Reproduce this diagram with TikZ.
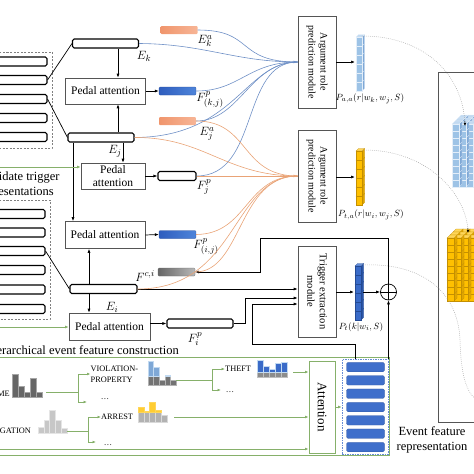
\documentclass[tikz,border=0pt]{standalone}
\usepackage{fontspec}
\setmainfont{Liberation Serif}
\usetikzlibrary{arrows.meta,calc}
\newcommand\fsz[2]{\fontsize{#1}{#2}\selectfont}
\definecolor{boxgray}{HTML}{555555}
\definecolor{salmonA}{HTML}{F0956C}
\definecolor{salmonB}{HTML}{F7B596}
\definecolor{blueA}{HTML}{2F5EBE}
\definecolor{blueB}{HTML}{4E84DA}
\definecolor{grayA}{HTML}{666666}
\definecolor{grayB}{HTML}{B8B8B8}
\definecolor{bcurve}{HTML}{6F90C6}
\definecolor{ocurve}{HTML}{E9A376}
\definecolor{gline}{HTML}{86B06A}
\definecolor{evblue}{HTML}{3F6FCB}
% cube colours: front (f), top (t), side (s), edge (e)
\definecolor{lbf}{HTML}{9DC3E6}\definecolor{lbt}{HTML}{C2DAF1}\definecolor{lbs}{HTML}{7FA8D6}\definecolor{lbe}{HTML}{E3EEF9}
\definecolor{ylf}{HTML}{FFC000}\definecolor{ylt}{HTML}{FFD659}\definecolor{yls}{HTML}{E0A600}\definecolor{yle}{HTML}{C48F00}
\definecolor{dbf}{HTML}{3A6BC8}\definecolor{dbt}{HTML}{6690DB}\definecolor{dbs}{HTML}{2A55A8}\definecolor{dbe}{HTML}{244A93}
% #1 x0, #2 y0, #3 last col, #4 last row, #5 last layer, #6 colour prefix
\newcommand\cubes[6]{%
  \foreach \L in {#5,...,0}{%
    \foreach \c in {#3,...,0}{%
      \foreach \r in {#4,...,0}{%
        \pgfmathsetmacro\xx{#1+\c*\cw+\L*\cd}%
        \pgfmathsetmacro\yy{#2+\r*\ch-\L*\cd}%
        \filldraw[draw=#6e,fill=#6s,line width=0.3pt] (\xx+\cw,\yy) -- ++(\cd,-\cd) -- ++(0,\ch) -- ++(-\cd,\cd) -- cycle;
        \filldraw[draw=#6e,fill=#6t,line width=0.3pt] (\xx,\yy) -- ++(\cd,-\cd) -- ++(\cw,0) -- ++(-\cd,\cd) -- cycle;
        \filldraw[draw=#6e,fill=#6f,line width=0.3pt] (\xx,\yy) rectangle ++(\cw,\ch);
      }}}}
\begin{document}
\begin{tikzpicture}[x=1pt,y=-1pt,
  wbar/.style={draw=black,line width=1.1pt,rounded corners=1.6pt,fill=white,inner sep=0pt},
  sbar/.style={inner sep=0pt,rounded corners=1pt,left color=salmonA,right color=salmonB,minimum width=37pt,minimum height=8pt},
  bbar/.style={inner sep=0pt,rounded corners=1pt,left color=blueA,right color=blueB,draw=blueA!80!black,line width=0.3pt,minimum width=37pt,minimum height=8pt},
  gbar/.style={inner sep=0pt,rounded corners=1pt,left color=grayA,right color=grayB,draw=grayA,line width=0.3pt,minimum width=37pt,minimum height=8pt},
  pbox/.style={draw=boxgray,line width=0.6pt,fill=white,inner sep=0pt,font=\fsz{11.5}{13.5},align=center},
  mbox/.style={draw=boxgray,line width=0.6pt,fill=white,inner sep=0pt,minimum width=38pt,minimum height=92pt},
  rtxt/.style={rotate=-90,align=center,inner sep=0pt},
  arr/.style={line width=0.7pt,-{Latex[length=4pt,width=3pt]}},
  conn/.style={line width=0.7pt},
  garr/.style={gline,line width=0.8pt,-{Latex[length=3.5pt,width=2.8pt]}},
  gl/.style={gline,line width=0.8pt},
  bc/.style={bcurve,line width=0.6pt},
  oc/.style={ocurve,line width=0.6pt},
  dotc/.style={gray!75,line width=0.5pt,dash pattern=on 0.7pt off 1.3pt},
  lbl/.style={font=\fsz{13}{15},inner sep=0pt},
  plbl/.style={font=\fsz{9.5}{11},inner sep=0pt},
  smalltxt/.style={font=\fsz{8.3}{10.5},inner sep=0pt},
  bigtxt/.style={font=\fsz{12.5}{15},inner sep=0pt,align=center},
  dbox/.style={gray,line width=0.6pt,dash pattern=on 2pt off 1.5pt},
  evbar/.style={inner sep=0pt,rounded corners=1.5pt,fill=evblue,draw=evblue!80!black,line width=0.3pt,minimum width=38pt,minimum height=9.5pt}
]
\useasboundingbox (0,0) rectangle (474,474);

% ---------- upper left group ----------
\draw[dbox] (-10,52) rectangle (52,148);
\foreach \i/\y in {1/61.5,2/80,3/99,4/118,5/137}
  \node[wbar,minimum width=52pt,minimum height=9pt] (a\i) at (21,\y) {};

\node[wbar,minimum width=66pt,minimum height=9pt] (ek) at (105.5,43.5) {};
\node[wbar,minimum width=66pt,minimum height=9pt] (ej) at (101,137.5) {};
\node[pbox,minimum width=80pt,minimum height=26pt] (pa1) at (105.5,91) {Pedal attention};
\node[sbar] (eak) at (179,30) {};
\node[bbar] (fkj) at (177.5,91) {};
\node[sbar] (eaj) at (177.5,121) {};
\node[pbox,minimum width=64pt,minimum height=26pt] (pa2) at (113,176) {Pedal\\attention};
\node[wbar,minimum width=38pt,minimum height=9pt] (fj) at (177,176) {};
\node[pbox,minimum width=80pt,minimum height=27pt] (pa3) at (105,235) {Pedal attention};
\node[bbar] (fij) at (177.5,234.5) {};
\node[gbar] (fci) at (176.5,272) {};

\node[bigtxt] (candtxt) at (16,184.5) {Candidate trigger\\representations};

% ---------- lower left group ----------
\draw[dbox] (-10,200) rectangle (50,319);
\foreach \i/\y in {1/214,2/232.5,3/251,4/270,5/289.5,6/309}
  \node[wbar,minimum width=50pt,minimum height=9pt] (b\i) at (20,\y) {};
\node[wbar,minimum width=67pt,minimum height=9pt] (ei) at (103.5,289) {};
\node[pbox,minimum width=81pt,minimum height=27pt] (pa4) at (109.5,326.5) {Pedal attention};
\node[wbar,minimum width=66pt,minimum height=9pt] (fi) at (200,323.5) {};

% labels
\node[lbl] (lek) at (144,56) {$E_k$};
\node[lbl] (lej) at (115,151) {$E_j$};
\node[lbl] (lei) at (112,307) {$E_i$};
\node[lbl] (leak) at (205,41) {$E^{a}_{k}$};
\node[lbl] (leaj) at (207,134) {$E^{a}_{j}$};
\node[lbl] (lfkj) at (210,100) {$F^{p}_{(k,j)}$};
\node[lbl] (lfj) at (204,187) {$F^{p}_{j}$};
\node[lbl] (lfij) at (206,247) {$F^{p}_{(i,j)}$};
\node[lbl] (lfci) at (145,276) {$F^{c,i}$};
\node[lbl] (lfi) at (195,339) {$F^{p}_{i}$};

% modules
\node[mbox] (arg1) at (317,62) {};
\node[rtxt,font=\fsz{10}{12}] at (arg1) {Argument role\\prediction module};
\node[mbox] (arg2) at (317,176) {};
\node[rtxt,font=\fsz{10}{12}] at (arg2) {Argument role\\prediction module};
\node[mbox,minimum height=91pt] (trig) at (317,291.5) {};
\node[rtxt,font=\fsz{10.5}{12.5}] at (trig) {Trigger extraction\\module};

% output columns
\def\cw{6}\def\ch{9}\def\cd{2.5}
\cubes{356}{37}{0}{5}{0}{lb}
\cubes{356}{151}{0}{5}{0}{yl}
\cubes{355}{266}{0}{5}{0}{db}
\coordinate (paaL) at (355,62);
\coordinate (ptaL) at (355,177);
\coordinate (ptL) at (354,292);
\coordinate (ptR) at (363,292);
\coordinate (paaT) at (362,36);
\coordinate (ptaT) at (362,150);
\coordinate (ptT) at (361,265);

\node[plbl] (lpaa) at (370,99) {$P_{a,a}(r|w_k,w_j,S)$};
\node[plbl] (lpta) at (371,215) {$P_{t,a}(r|w_i,w_j,S)$};
\node[plbl] (lpt) at (361,327) {$P_t(k|w_i,S)$};

\node[circle,draw=black,line width=0.7pt,minimum size=16pt,inner sep=0pt,fill=white] (op) at (388.5,292) {};
\draw[line width=0.7pt] (op.north) -- (op.south) (op.west) -- (op.east);

% big right box and stacks
\draw[boxgray,line width=0.8pt] (438,72) rectangle (490,422);
\def\cw{7}\def\ch{7}\def\cd{3}
\cubes{452}{124}{2}{8}{2}{lb}
\cubes{447}{238}{3}{8}{2}{yl}

% dotted curves
\draw[dotc] (paaT) .. controls (425,36) and (463,75) .. (465,124);
\draw[-{Latex[length=3pt,width=2.5pt]},line width=0.5pt] (464.9,121) -- (465,126);
\draw[dotc] (ptaT) .. controls (425,149) and (466,192) .. (468,231);
\draw[-{Latex[length=3pt,width=2.5pt]},line width=0.5pt] (467.9,228) -- (468,233);
\draw[dotc] (ptT) .. controls (420,262) and (458,290) .. (460,340) .. controls (461,380) and (468,396) .. (480,402);

% ---------- black connectors ----------
\draw[conn] (a2.east) -- (ek.west);
\draw[conn] (a3.east) -- (ej.west);
\draw[conn] (b3.east) -- (ei.west);
\coordinate (xk) at (118,0);
\coordinate (xj) at (123,0);
\coordinate (xl) at (73,0);
\coordinate (xi) at (89,0);
\draw[arr] (ek.south -| xk) -- (pa1.north -| xk);
\draw[arr] (ej.north -| xk) -- (pa1.south -| xk);
\draw[arr] (ej.south -| xj) -- (pa2.north -| xj);
\draw[arr] (ej.south -| xl) -- (pa3.north -| xl);
\draw[arr] (ei.north -| xi) -- (pa3.south -| xi);
\draw[arr] (ei.south -| xi) -- (pa4.north -| xi);
\draw[arr] (pa1.east) -- (fkj.west);
\draw[arr] (pa2.east) -- (fj.west);
\draw[arr] (pa3.east) -- (fij.west);
\draw[arr] (pa4.east |- fi.west) -- (fi.west);
\draw[arr] (ei.east) -- (ei.east -| trig.west);
\draw[arr] (fi.east) -- (245,323.5) |- ([yshift=-6.5pt]trig.west);
\draw[arr] (arg1.east) -- (paaL);
\draw[arr] (arg2.east |- ptaL) -- (ptaL);
\draw[arr] (trig.east |- ptL) -- (ptL);
\draw[arr] (ptR) -- (op.west);
\draw[arr] (op.north) |- (260,238) |- (fci.east);

% ---------- coloured curves ----------
\coordinate (c1) at (297.5,62);
\coordinate (c2) at (297.5,176);
\draw[bc] (eak.east) .. controls (255,30) and (235,62) .. (c1);
\draw[bc] (ek.east) .. controls (205,44) and (235,62) .. (c1);
\draw[bc] (fkj.east) .. controls (240,91) and (248,62) .. (c1);
\draw[bc] (eaj.east) .. controls (240,121) and (250,62) .. (c1);
\draw[bc] (ej.east) .. controls (235,137) and (245,62) .. (c1);
\draw[bc] (fj.east) .. controls (260,176) and (240,62) .. (c1);
\draw[bc,-{Latex[length=4pt,width=3pt]}] (290,62) -- (c1);
\draw[oc] (eaj.east) .. controls (250,121) and (240,176) .. (c2);
\draw[oc] (ej.east) .. controls (205,137) and (225,176) .. (c2);
\draw[oc] (fj.east) -- (c2);
\draw[oc] (fij.east) .. controls (248,234) and (245,176) .. (c2);
\draw[oc] (fci.east) .. controls (242,272) and (238,176) .. (c2);
\draw[oc] (ei.east) .. controls (238,289) and (232,176) .. (c2);
\draw[oc,-{Latex[length=4pt,width=3pt]}] (290,176) -- (c2);

% ---------- green inputs ----------
\coordinate (g1) at (-2,167);
\coordinate (g2) at (-2,327);
\coordinate (g3) at (-2,449);
\draw[garr] (g1) -- (g1 -| pa2.west);
\draw[garr] (g2) -- (g2 -| pa4.west);

% ---------- hierarchical event feature construction ----------
\node[bigtxt,anchor=east] (hiertxt) at (179,350) {Hierarchical event feature construction};
\draw[gline,line width=0.8pt] (-5,357) rectangle (389,455);
\node[draw=gline,line width=0.8pt,fill=white,minimum width=26pt,minimum height=92pt,inner sep=0pt] (att) at (322,407) {};
\node[rtxt,font=\fsz{13}{15}] at (att) {Attention};
\node[draw=evblue!80,line width=0.6pt,dash pattern=on 1.5pt off 1pt,minimum width=46pt,minimum height=95pt,inner sep=0pt] (evbox) at (365,406.5) {};
\foreach \i/\y in {1/367,2/380.3,3/393.7,4/407,5/420.3,6/433.7,7/447}
  \node[evbar] (e\i) at (365.5,\y) {};
\node[bigtxt,font=\fsz{12.5}{14.5}] (evtxt) at (432,440) {Event feature\\representation};

\draw[garr] (g3) -- (g3 -| att.west);
\draw[garr] (att.east) -- (att.east -| evbox.west);

% connectors from event representation
\coordinate (x355) at (355,0);
\draw[arr] (evbox.north -| x355) |- (252,344) |- ([yshift=-12.5pt]trig.west);
\draw[arr] (evbox.north -| op) -- (op.south);

% texts of the hierarchy
\node[smalltxt,anchor=east] (crime) at (10,394) {CRIME};
\node[smalltxt,anchor=west,align=left] (viol) at (90.5,374.5) {VIOLATION-\\PROPERTY};
\node[smalltxt,anchor=base] (dt1) at (105,399) {…};
\node[smalltxt,anchor=west] (theft) at (225,369) {THEFT};
\node[smalltxt,anchor=base] (dt2) at (230,392) {…};
\node[smalltxt,anchor=east] (inv) at (31,431) {INVESTIGATION};
\node[smalltxt,anchor=west] (arrest) at (101,417) {ARREST};
\node[smalltxt,anchor=base] (dt3) at (108,445) {…};

% histograms
\foreach \x/\t in {12/374,18/386,24/392,30/378,36/392}
  \filldraw[fill=black!60,draw=black!35,line width=0.3pt] (\x,\t) rectangle ++(6,397-\t);
\foreach \x/\t in {148/361,153.6/367,159.2/380,164.8/375,170.4/380}{
  \filldraw[fill=black!55,draw=black!30,line width=0.3pt] (\x,\t) rectangle ++(5.6,385-\t);}
\foreach \x/\t in {148/361,153.6/367,164.8/375}{
  \filldraw[draw=lbt,line width=0.3pt,fill=lbs] (\x,\t) rectangle ++(5.6,376-\t);}
\foreach \x/\t in {257/360,263/366,269/369,275/363,281/362}{
  \filldraw[fill=black!45,draw=black!25,line width=0.3pt] (\x,\t) rectangle ++(6,377-\t);
  \filldraw[fill=dbf,draw=lbt,line width=0.3pt] (\x,\t) rectangle ++(6,372-\t);}
\foreach \x/\t in {138/407,143.8/411,149.6/402,155.4/410,161.2/415}{
  \filldraw[fill=black!30,draw=black!15,line width=0.3pt] (\x,\t) rectangle ++(5.8,422-\t);}
\foreach \x/\t in {138/407,143.8/411,149.6/402,155.4/410}{
  \filldraw[fill=ylf!80,draw=ylt,line width=0.3pt] (\x,\t) rectangle ++(5.8,412-\t);}
\foreach \x/\t in {38/427,43.8/420,49.6/410,55.4/420,61.2/428}
  \filldraw[fill=black!22,draw=black!10,line width=0.3pt] (\x,\t) rectangle ++(5.8,433-\t);

% tree lines
\draw[gl] (46,392) -- (78,392);
\draw[gl] (78,374) -- (78,402);
\draw[garr] (78,374) -- (viol.west |- 0,374);
\draw[garr] (78,402) -- (87,402);
\draw[gl] (176,380) -- (212,380);
\draw[gl] (212,369) -- (212,390);
\draw[garr] (212,369) -- (theft.west);
\draw[garr] (212,390) -- (221,390);
\draw[gl] (67,431) -- (88,431);
\draw[gl] (88,417) -- (88,442);
\draw[garr] (88,417) -- (arrest.west);
\draw[garr] (88,442) -- (96,442);
\coordinate (th) at (293,372);
\coordinate (ar) at (174,417);
\draw[garr] (th) -- (th -| att.west);
\draw[garr] (ar) -- (ar -| att.west);
\end{tikzpicture}
\end{document}
